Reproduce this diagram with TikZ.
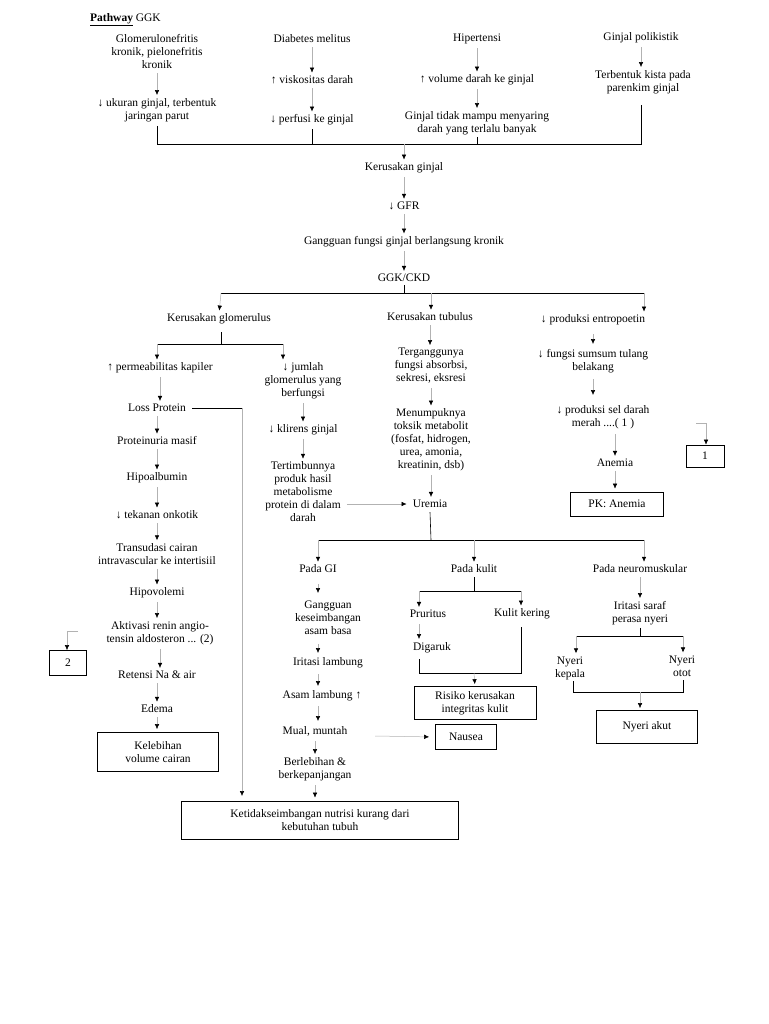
\documentclass[tikz,border=0pt]{standalone}
\usepackage{fontspec}
\setmainfont{Liberation Serif}
\usetikzlibrary{arrows.meta}
\begin{document}
\begin{tikzpicture}[x=1pt,y=-1pt,
  t/.style={inner sep=0pt,align=center,font=\fontsize{11.5}{13}\selectfont},
  bx/.style={t,draw,line width=0.7pt,minimum height=24pt,inner xsep=6pt},
  arr/.style={draw=gray!60,line width=0.5pt,-{Latex[black,length=5pt,width=4.5pt]}},
  ln/.style={draw,line width=0.6pt}]
\useasboundingbox (0,0) rectangle (768,1024);
\newcommand\dar[2]{\draw[arr,shorten <=4pt,shorten >=3pt] (#1.south) -- (#1.south |- #2.north);}
\node[t,anchor=west] (title) at (90,20) {\textbf{\underline{Pathway}} GGK};
% top row
\node[t] (g1) at (157,52) {Glomerulonefritis\\kronik, pielonefritis\\kronik};
\node[t] (g2) at (157,110) {↓ ukuran ginjal, terbentuk\\jaringan parut};
\node[t] (d1) at (312,39) {Diabetes melitus};
\node[t] (d2) at (312,80) {↑ viskositas darah};
\node[t] (d3) at (312,120) {↓ perfusi ke ginjal};
\node[t] (h1) at (477,39) {Hipertensi};
\node[t] (h2) at (477,80) {↑ volume darah ke ginjal};
\node[t] (h3) at (477,123) {Ginjal tidak mampu menyaring\\darah yang terlalu banyak};
\node[t] (p1) at (641,38) {Ginjal polikistik};
\node[t] (p2) at (643,82) {Terbentuk kista pada\\parenkim ginjal};
\dar{g1}{g2}\dar{d1}{d2}\dar{d2}{d3}\dar{h1}{h2}\dar{h2}{h3}\dar{p1}{p2}
\coordinate (b1) at (157,144); \coordinate (b2) at (641,144); \coordinate (bm) at (404,144);
\draw[ln] (g2.south) ++(0,4) -- (b1) -- (b2) -- (641,105);
\draw[ln] (d3.south) ++(0,4) -- (312,144);
\draw[ln] (h3.south) ++(0,2) -- (477,144);
\node[t] (k1) at (404,168) {Kerusakan ginjal};
\node[t] (k2) at (404,206) {↓ GFR};
\node[t] (k3) at (404,242) {Gangguan fungsi ginjal berlangsung kronik};
\node[t] (k4) at (404,278) {GGK/CKD};
\draw[arr,shorten >=3pt] (bm) -- (k1.north);
\dar{k1}{k2}\dar{k2}{k3}\dar{k3}{k4}
\coordinate (c0) at (404,293); \coordinate (cl) at (221,293); \coordinate (cr) at (644,293);
\draw[ln] (k4.south) ++(0,3) -- (c0);
\draw[ln] (cl) -- (cr);
% level 2
\node[t] (kg) at (219,319) {Kerusakan glomerulus};
\node[t] (kt) at (430,317) {Kerusakan tubulus};
\node[t] (pe) at (593,320) {↓ produksi entropoetin};
\draw[arr,shorten >=3pt] (cl) -- (kg.north);
\draw[arr,shorten >=3pt] (431,293) -- (kt.north -| 431,0);
\draw[arr,shorten >=3pt] (cr) -- (cr |- pe.north);
% glomerulus branch
\coordinate (gl) at (157,344); \coordinate (gr) at (283,344);
\draw[ln] (221,332) -- (221,344);
\draw[ln] (gl) -- (gr);
\node[t] (pk) at (160,368) {↑ permeabilitas kapiler};
\node[t] (lp) at (157,408) {Loss Protein};
\node[t] (pm) at (157,441) {Proteinuria masif};
\node[t] (ha) at (157,478) {Hipoalbumin};
\node[t] (to) at (157,515) {↓ tekanan onkotik};
\node[t] (tc) at (157,554) {Transudasi cairan\\intravascular ke intertisiil};
\node[t] (hv) at (157,593) {Hipovolemi};
\node[t] (ar) at (160,633) {Aktivasi renin angio-\\tensin aldosteron ... (2)};
\node[t] (rn) at (157,675) {Retensi Na \& air};
\node[t] (ed) at (157,709) {Edema};
\node[bx,minimum width=121pt,minimum height=39pt] (kv) at (158,752) {Kelebihan\\volume cairan};
\draw[arr,shorten >=3pt] (gl) -- (gl |- pk.north);
\dar{pk}{lp}\dar{lp}{pm}\dar{pm}{ha}\dar{ha}{to}\dar{to}{tc}\dar{tc}{hv}\dar{hv}{ar}\dar{ar}{rn}\dar{rn}{ed}\dar{ed}{kv}
\node[bx,minimum width=37pt,minimum height=25pt,inner xsep=0pt] (two) at (68,663) {2};
\coordinate (tw) at (78,631);
\draw[arr] (tw) -- (67,631) -- (two.north -| 67,0);
\node[t] (jg) at (303,381) {↓ jumlah\\glomerulus yang\\berfungsi};
\node[t] (kl) at (303,430) {↓ klirens ginjal};
\node[t] (tp) at (303,492) {Tertimbunnya\\produk hasil\\metabolisme\\protein di dalam\\darah};
\draw[arr,shorten >=3pt] (gr) -- (gr |- jg.north);
\dar{jg}{kl}\dar{kl}{tp}
% tubulus
\node[t] (tf) at (431,366) {Terganggunya\\fungsi absorbsi,\\sekresi, eksresi};
\node[t] (mt) at (431,440) {Menumpuknya\\toksik metabolit\\(fosfat, hidrogen,\\urea, amonia,\\kreatinin, dsb)};
\node[t] (ur) at (430,504) {Uremia};
\dar{kt}{tf}\dar{tf}{mt}\dar{mt}{ur}
\draw[arr,shorten <=6pt,shorten >=6pt] (tp.east |- ur) -- (ur.west);
% eritropoetin
\node[t] (fs) at (593,361) {↓ fungsi sumsum tulang\\belakang};
\node[t] (ps) at (603,417) {↓ produksi sel darah\\merah ....( 1 )};
\node[t] (an) at (615,463) {Anemia};
\node[bx,minimum width=93pt] (pka) at (617,504) {PK: Anemia};
\draw[arr,shorten <=4pt,shorten >=3pt] (593,330) -- (593,347);
\draw[arr,shorten <=4pt,shorten >=3pt] (593,375) -- (593,398);
\draw[arr,shorten <=4pt,shorten >=3pt] (615,430) -- (an.north);
\dar{an}{pka}
\node[bx,minimum width=38pt,minimum height=22pt,inner xsep=0pt] (one) at (705,456) {1};
\coordinate (ow) at (696,423);
\draw[arr] (ow) -- (706,423) -- (one.north -| 706,0);
% Loss protein line
\node[bx,minimum width=277pt,minimum height=38pt] (kn) at (320,820) {Ketidakseimbangan nutrisi kurang dari\\kebutuhan tubuh};
\draw[ln] (lp.east) ++(6,0) -- (242,408);
\draw[arr] (242,408) -- (242,796);
% uremia branches
\coordinate (u0) at (431,540); \coordinate (ul) at (318,540); \coordinate (ur2) at (644,540); \coordinate (um) at (474,540);
\draw[ln] (ur.south) ++(0,4) -- (u0);
\draw[ln] (ul) -- (ur2);
\node[t] (gi) at (318,569) {Pada GI};
\node[t] (pkl) at (474,569) {Pada kulit};
\node[t] (nm) at (640,569) {Pada neuromuskular};
\draw[arr,shorten >=3pt] (ul) -- (gi.north);
\draw[arr,shorten >=3pt] (um) -- (pkl.north);
\draw[arr,shorten >=3pt] (ur2) -- (ur2 |- nm.north);
% GI
\node[t] (ga) at (328,618) {Gangguan\\keseimbangan\\asam basa};
\node[t] (il) at (328,663) {Iritasi lambung};
\node[t] (al) at (322,696) {Asam lambung ↑};
\node[t] (mm) at (315,731) {Mual, muntah};
\node[t] (bb) at (315,769) {Berlebihan \&\\berkepanjangan};
\node[bx,minimum width=61pt,minimum height=25pt] (na) at (466,737) {Nausea};
\draw[arr,shorten <=4pt,shorten >=3pt] (318,580) -- (318,596);
\draw[arr,shorten <=4pt,shorten >=3pt] (318,640) -- (318,656);
\draw[arr,shorten <=4pt,shorten >=3pt] (318,670) -- (318,689);
\draw[arr,shorten <=4pt,shorten >=3pt] (318,702) -- (318,724);
\draw[arr,shorten <=4pt,shorten >=3pt] (315,737) -- (bb.north);
\draw[arr,shorten <=4pt,shorten >=3pt] (315,781) -- (kn.north -| 315,0);
\draw[arr,shorten >=6pt] (375,736) -- (na.west);
% kulit
\coordinate (kl0) at (474,591); \coordinate (kll) at (419,591); \coordinate (klr) at (521,591);
\draw[ln] (pkl.south) ++(0,4) -- (kl0);
\draw[ln] (kll) -- (klr);
\node[t] (pr) at (428,614) {Pruritus};
\node[t] (kk) at (522,614) {Kulit kering};
\node[t] (dg) at (432,648) {Digaruk};
\draw[arr,shorten >=3pt] (kll) -- (kll |- pr.north);
\draw[arr,shorten >=3pt] (klr) -- (klr |- kk.north);
\draw[arr,shorten <=4pt,shorten >=3pt] (419,620) -- (419,642);
\node[bx,minimum width=122pt,minimum height=33pt] (rk) at (475,703) {Risiko kerusakan\\integritas kulit};
\coordinate (kj) at (474,673);
\draw[ln] (419,659) -- (419,673) -- (521,673) -- (521,627);
\draw[arr,shorten >=2pt] (kj) -- (rk.north);
% neuro
\node[t] (is) at (640,613) {Iritasi saraf\\perasa nyeri};
\draw[arr,shorten <=4pt,shorten >=3pt] (nm.south -| 640,0) -- (is.north);
\coordinate (n0) at (640,636); \coordinate (nl) at (576,636); \coordinate (nr) at (683,636);
\draw[ln] (is.south) ++(0,3) -- (n0);
\draw[ln] (nl) -- (nr);
\node[t] (nk) at (570,668) {Nyeri\\kepala};
\node[t] (no) at (682,666) {Nyeri\\otot};
\draw[arr,shorten >=3pt] (nl) -- (nl |- nk.north);
\draw[arr,shorten >=3pt] (nr) -- (nr |- no.north);
\node[bx,minimum width=101pt,minimum height=33pt] (nya) at (647,727) {Nyeri akut};
\coordinate (nj) at (640,692);
\draw[ln] (573,681) -- (573,692) -- (683,692) -- (683,680);
\draw[arr,shorten >=2pt] (nj) -- (nj |- nya.north);
\end{tikzpicture}
\end{document}
